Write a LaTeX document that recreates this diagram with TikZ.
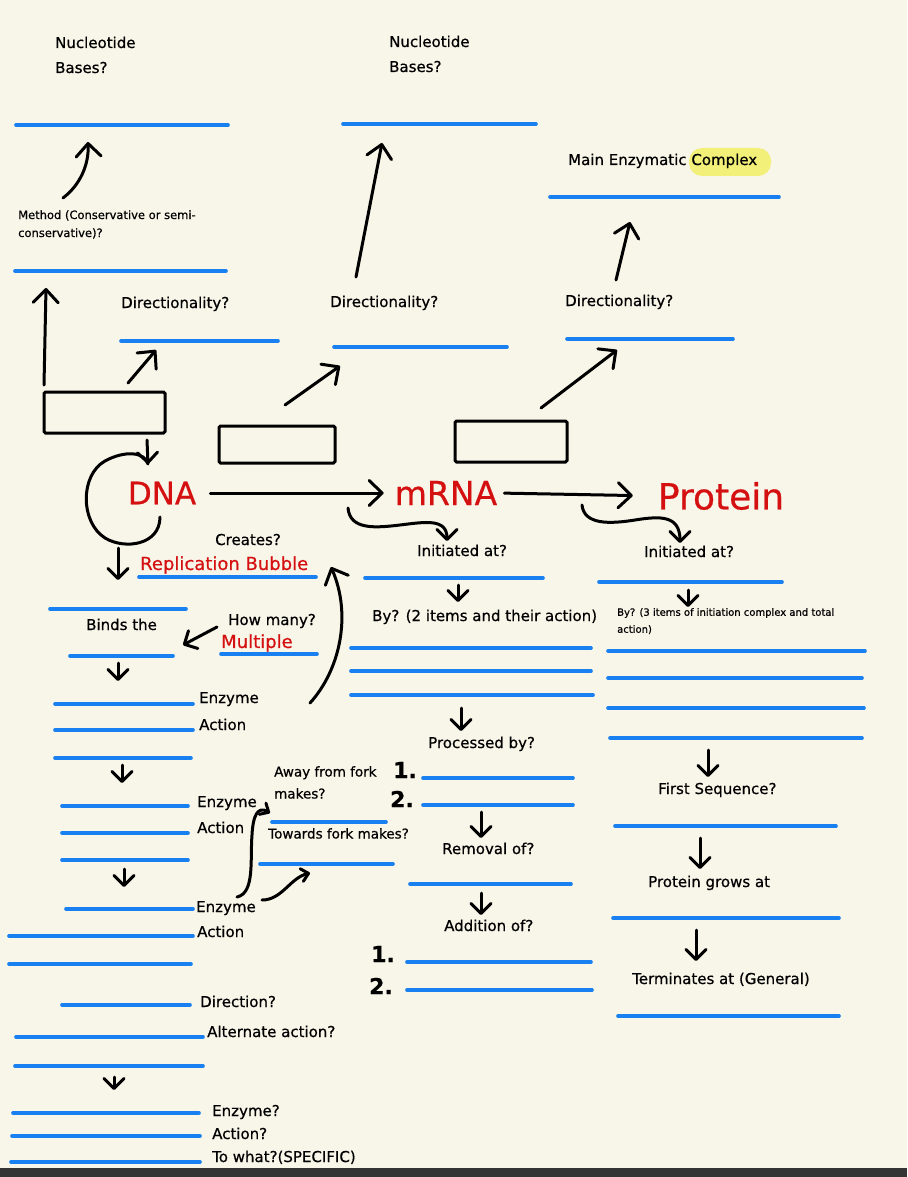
\documentclass[tikz,border=0pt]{standalone}
\usepackage{fontspec}
\setmainfont{DejaVu Sans}[FakeBold=0.6]
\usetikzlibrary{arrows.meta}
\definecolor{bg}{RGB}{248,245,233}
\definecolor{bluel}{RGB}{24,128,240}
\definecolor{redt}{RGB}{212,16,16}
\definecolor{hl}{RGB}{242,240,120}
\definecolor{barc}{RGB}{52,52,52}
\begin{document}
\begin{tikzpicture}[x=1pt,y=-1pt,
 blueline/.style={draw=bluel,line width=3.6pt,line cap=round},
 lbl/.style={anchor=west,inner sep=0pt,font=\fontsize{15}{18}\selectfont,text height=11pt,text depth=3pt},
 lblm/.style={lbl,font=\fontsize{13.5}{16}\selectfont,text height=10pt,text depth=3pt},
 lbls/.style={lbl,font=\fontsize{11.5}{14}\selectfont,text height=8.5pt,text depth=2.5pt},
 lblxs/.style={lbl,font=\fontsize{10}{12}\selectfont,text height=7.5pt,text depth=2pt},
 hand/.style={anchor=west,inner sep=0pt,text=redt,font=\fontsize{18}{20}\selectfont},
 bigred/.style={inner sep=0pt,text=redt},
 num/.style={anchor=west,inner sep=0pt,font=\bfseries\fontsize{22}{24}\selectfont},
 hbox/.style={draw,line width=3pt,inner sep=0pt,rounded corners=1.5pt},
 ink/.style={line width=3pt,line cap=round,line join=round},
 barr/.style={ink,-{Straight Barb[length=13pt,width=25pt,round]}},
 marr/.style={ink,-{Straight Barb[length=10pt,width=20pt,round]}},
 sarr/.style={ink,-{Straight Barb[length=7pt,width=13pt,round]}},
]
\fill[bg] (0,0) rectangle (907,1177);
\useasboundingbox (0,0) rectangle (907,1177);
\fill[barc] (0,1168) rectangle (907,1177);

% blue answer lines
\foreach \a/\b/\c in {16/228/125, 15/226/271, 121/278/341, 343/536/124, 334/507/347,
  550/779/197, 567/733/339, 139/316/577, 50/186/609, 70/173/656, 221/317/654,
  55/193/704, 55/193/730, 55/191/758, 62/188/806, 62/188/833, 62/188/860,
  66/193/909, 9/193/936, 9/191/964, 62/190/1005, 16/203/1037, 15/203/1066,
  13/199/1113, 12/200/1136, 11/200/1162, 272/386/822, 260/393/864,
  365/543/578, 351/591/648, 351/591/671, 351/593/695, 423/573/778, 423/573/805,
  410/571/884, 407/591/962, 407/592/990, 599/782/582, 608/865/651, 608/862/678,
  608/864/708, 610/862/738, 615/836/826, 613/839/918, 618/839/1016}
  \draw[blueline] (\a,\c) -- (\b,\c);

% highlight
\fill[hl,rounded corners=13pt] (689,148) rectangle (771,176);

% boxes
\node[hbox,minimum width=121pt,minimum height=41pt] (box1) at (104.5,412.5) {};
\node[hbox,minimum width=116pt,minimum height=37pt] (box2) at (277,444.5) {};
\node[hbox,minimum width=112pt,minimum height=41pt] (box3) at (511,441.5) {};

% top texts
\node[lbl] (nb1) at (55,44) {Nucleotide};
\node[lbl] (nb1b) at (55,69) {Bases?};
\node[lbls] (meth1) at (18,216) {Method (Conservative or semi-};
\node[lbls] (meth2) at (18,234) {conservative)?};
\node[lbl] (dir1) at (121,304) {Directionality?};
\node[lbl] (nb2) at (389,43) {Nucleotide};
\node[lbl] (nb2b) at (389,68) {Bases?};
\node[lbl] (dir2) at (330,303) {Directionality?};
\node[lbl] (mec) at (568,161) {Main Enzymatic Complex};
\node[lbl] (dir3) at (565,302) {Directionality?};

% main chain
\node[bigred,font=\fontsize{31}{36}\selectfont] (dna) at (162,493) {DNA};
\node[bigred,font=\fontsize{33}{38}\selectfont] (mrna) at (446,493) {mRNA};
\node[bigred,font=\fontsize{36}{40}\selectfont] (prot) at (721,496) {Protein};
\draw[barr,shorten <=14pt,shorten >=11pt] (dna.east) -- (mrna.west);
\draw[barr,shorten <=7pt,shorten >=25pt] (mrna.east) -- (prot.west);

% DNA column
\node[lbl] (creates) at (215,541) {Creates?};
\node[hand] (rb) at (140,565) {Replication Bubble};
\node[lbl] (binds) at (86,626) {Binds the};
\node[lbl] (howmany) at (228,621) {How many?};
\node[hand] (mult) at (221,643) {Multiple};
\node[lbl] (enz1) at (199,699) {Enzyme};
\node[lbl] (act1) at (199,726) {Action};
\node[lbl] (enz2) at (197,803) {Enzyme};
\node[lbl] (act2) at (197,829) {Action};
\node[lbl] (enz3) at (196,908) {Enzyme};
\node[lbl] (act3) at (197,933) {Action};
\node[lblm] (away1) at (274,773) {Away from fork};
\node[lblm] (away2) at (274,795) {makes?};
\node[lblm] (tow) at (268,835) {Towards fork makes?};
\node[lbl] (dirq) at (200,1003) {Direction?};
\node[lbl] (alt) at (207,1033) {Alternate action?};
\node[lbl] (enzq) at (212,1112) {Enzyme?};
\node[lbl] (actq) at (212,1135) {Action?};
\node[lbl] (towhat) at (212,1158) {To what?(SPECIFIC)};

% mRNA column
\node[lbl] (init1) at (417,552) {Initiated at?};
\node[lbl] (by2) at (372,617) {By? (2 items and their action)};
\node[lbl] (proc) at (428,744) {Processed by?};
\node[num] (n1a) at (393,770) {1.};
\node[num] (n2a) at (390,799) {2.};
\node[lbl] (remov) at (442,850) {Removal of?};
\node[lbl] (addit) at (444,927) {Addition of?};
\node[num] (n1b) at (371,954) {1.};
\node[num] (n2b) at (369,986) {2.};

% protein column
\node[lbl] (init2) at (644,553) {Initiated at?};
\node[lblxs] (by3a) at (617,613) {By? (3 items of initiation complex and total};
\node[lblxs] (by3b) at (617,630) {action)};
\node[lbl] (first) at (658,790) {First Sequence?};
\node[lbl] (grows) at (648,883) {Protein grows at};
\node[lbl] (term) at (632,980) {Terminates at (General)};

% arrow end points
\coordinate (u1s) at (63,198);  \coordinate (u1e) at (88,142);
\coordinate (u2s) at (44,385);  \coordinate (u2e) at (46,288);
\coordinate (u3s) at (128,383); \coordinate (u3e) at (156,350);
\coordinate (u4s) at (356,277); \coordinate (u4e) at (382,143);
\coordinate (u5s) at (285,405); \coordinate (u5e) at (340,366);
\coordinate (u6s) at (616,280); \coordinate (u6e) at (630,222);
\coordinate (u7s) at (541,408); \coordinate (u7e) at (617,350);
\draw[barr] (u1s) .. controls (80,185) and (89,165) .. (u1e);
\draw[barr] (u2s) -- (u2e);
\draw[barr] (u3s) -- (u3e);
\draw[barr] (u4s) -- (u4e);
\draw[barr] (u5s) -- (u5e);
\draw[barr] (u6s) -- (u6e);
\draw[barr] (u7s) -- (u7e);

% DNA loop
\coordinate (l0s) at (147,440); \coordinate (l0e) at (148,464);
\draw[marr] (l0s) -- (l0e);
\coordinate (loops) at (160,517);
\draw[ink] (loops) .. controls (160,545) and (125,550) .. (105,538)
  .. controls (80,522) and (80,475) .. (105,461)
  .. controls (125,450) and (145,452) .. (l0e);

\coordinate (d1s) at (118,548); \coordinate (d1e) at (118,580);
\draw[marr] (d1s) -- (d1e);
\coordinate (crs) at (310,703); \coordinate (cre) at (331,567);
\draw[barr] (crs) .. controls (340,670) and (352,615) .. (cre);
\coordinate (hms) at (217,627); \coordinate (hme) at (183,645);
\draw[marr] (hms) -- (hme);

\coordinate (d2s) at (118,663); \coordinate (d2e) at (118,681);
\coordinate (d3s) at (122,765); \coordinate (d3e) at (122,783);
\coordinate (d4s) at (124,869); \coordinate (d4e) at (124,887);
\coordinate (d5s) at (114,1077); \coordinate (d5e) at (114,1090);
\foreach \p in {d2,d3,d4,d5} \draw[marr] (\p s) -- (\p e);

\coordinate (e1s) at (237,897); \coordinate (e1e) at (270,813);
\draw[sarr] (e1s) .. controls (255,893) and (250,860) .. (252,835)
  .. controls (253,815) and (258,806) .. (e1e);
\coordinate (e2s) at (262,900); \coordinate (e2e) at (310,873);
\draw[sarr] (e2s) .. controls (282,900) and (290,878) .. (e2e);

% mRNA and protein side curves
\coordinate (m1s) at (348,508); \coordinate (m1e) at (447,541);
\draw[marr] (m1s) .. controls (350,530) and (375,528) .. (400,525)
  .. controls (425,522) and (447,518) .. (m1e);
\coordinate (p1s) at (582,505); \coordinate (p1e) at (680,543);
\draw[marr] (p1s) .. controls (584,525) and (610,524) .. (635,520)
  .. controls (660,516) and (680,515) .. (p1e);

\coordinate (m2s) at (458,585); \coordinate (m2e) at (458,602);
\coordinate (m3s) at (461,708); \coordinate (m3e) at (461,731);
\coordinate (m4s) at (481,812); \coordinate (m4e) at (481,838);
\coordinate (m5s) at (481,893); \coordinate (m5e) at (481,915);
\coordinate (p2s) at (688,590); \coordinate (p2e) at (688,607);
\coordinate (p3s) at (708,750); \coordinate (p3e) at (708,777);
\coordinate (p4s) at (700,838); \coordinate (p4e) at (700,869);
\coordinate (p5s) at (696,930); \coordinate (p5e) at (696,961);
\foreach \p in {m2,m3,m4,m5,p2,p3,p4,p5} \draw[marr] (\p s) -- (\p e);
\end{tikzpicture}
\end{document}
